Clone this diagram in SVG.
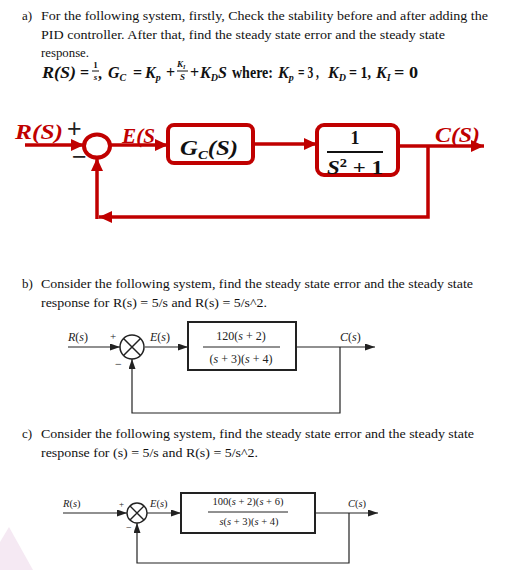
<svg xmlns="http://www.w3.org/2000/svg" width="518" height="570" viewBox="0 0 518 570">
<style>
.t{font-family:"Liberation Serif","Times New Roman",serif;font-size:13px;fill:#111}
.f{font-family:"Liberation Serif","Times New Roman",serif;font-weight:bold;fill:#111}
.i{font-style:italic}
.red{font-family:"Liberation Serif","Times New Roman",serif;font-weight:bold;font-style:italic;fill:#C00000}
.rl{fill:none;stroke:#C00000;stroke-width:3.5}
.rb{fill:#fff;stroke:#C00000;stroke-width:4}
.bl{fill:none;stroke:#222;stroke-width:1.2}
.bb{fill:#fff;stroke:#222;stroke-width:2}
.s{font-family:"Liberation Serif","Times New Roman",serif;fill:#222}
</style>
<defs>
<marker id="ra" markerUnits="userSpaceOnUse" markerWidth="13" markerHeight="12" refX="13" refY="6" orient="auto"><path d="M0,0 L13,6 L0,12 z" fill="#C00000"/></marker>
<marker id="ba" markerUnits="userSpaceOnUse" markerWidth="10" markerHeight="7" refX="10" refY="3.5" orient="auto"><path d="M0,0 L10,3.5 L0,7 z" fill="#222"/></marker>
</defs>
<rect width="518" height="570" fill="#fff"/>
<polygon points="0,542 9,527 33,570 0,570" fill="#F5E9F3"/>

<!-- Section a text -->
<g id="text-a">
<text class="t" x="22" y="20">a)</text>
<text class="t" x="41" y="20" textLength="447" lengthAdjust="spacingAndGlyphs">For the following system, firstly, Check the stability before and after adding the</text>
<text class="t" x="41" y="39" textLength="404" lengthAdjust="spacingAndGlyphs">PID controller. After that, find the steady state error and the steady state</text>
<text class="t" x="41" y="57" textLength="48" lengthAdjust="spacingAndGlyphs">response.</text>
</g>
<g id="formula" class="f" font-size="16">
<text x="42" y="78" class="i" textLength="34" lengthAdjust="spacingAndGlyphs">R(S)</text>
<text x="80" y="78">=</text>
<text x="95.5" y="68" font-size="9" text-anchor="middle">1</text>
<line x1="92" y1="71" x2="99" y2="71" stroke="#111" stroke-width="1"/>
<text x="95.5" y="80" font-size="9" class="i" text-anchor="middle">s</text>
<text x="98" y="79">,</text>
<text x="108" y="78" class="i">G<tspan font-size="10" dy="3">C</tspan></text>
<text x="133" y="78">=</text>
<text x="145" y="78" class="i">K<tspan font-size="10" dy="3">p</tspan></text>
<text x="166" y="78">+</text>
<text x="177" y="67" font-size="9" class="i">K<tspan font-size="6" dy="2">I</tspan></text>
<line x1="177" y1="71" x2="188" y2="71" stroke="#111" stroke-width="1"/>
<text x="182.5" y="80" font-size="9" class="i" text-anchor="middle">S</text>
<text x="190" y="78">+</text>
<text x="200" y="78" class="i">K<tspan font-size="10" dy="3">D</tspan><tspan font-size="16" dy="-3">S</tspan></text>
<text x="232" y="78" textLength="41" lengthAdjust="spacingAndGlyphs">where:</text>
<text x="278" y="78" class="i">K<tspan font-size="10" dy="3">p</tspan></text>
<text x="298" y="78" textLength="21" lengthAdjust="spacingAndGlyphs">= 3 ,</text>
<text x="328" y="78" class="i">K<tspan font-size="10" dy="3">D</tspan></text>
<text x="349" y="78" textLength="22" lengthAdjust="spacingAndGlyphs">= 1,</text>
<text x="376" y="78" class="i">K<tspan font-size="10" dy="3">I</tspan></text>
<text x="394" y="78" textLength="24" lengthAdjust="spacingAndGlyphs">= 0</text>
</g>

<!-- Diagram a -->
<g id="connectors-a">
<path class="rl" d="M25,145 H84" marker-end="url(#ra)"/>
<path class="rl" d="M110,145 H168" marker-end="url(#ra)"/>
<path class="rl" d="M253,144 H317" marker-end="url(#ra)"/>
<path class="rl" d="M398,146 H484" marker-end="url(#ra)"/>
<path class="rl" d="M428,146 V217 H99" marker-end="url(#ra)"/>
<path class="rl" d="M97,219 V158" marker-end="url(#ra)"/>
</g>
<g id="sum-a">
<ellipse cx="97" cy="146" rx="13" ry="11.5" fill="#fff" stroke="#C00000" stroke-width="4"/>
<text x="67" y="137" font-family="Liberation Sans,Arial,sans-serif" font-size="25" fill="#222">+</text>
<text x="72" y="165" font-family="Liberation Sans,Arial,sans-serif" font-size="25" fill="#222">−</text>
</g>
<g id="labels-a">
<text class="red" x="15" y="139" font-size="21" textLength="48" lengthAdjust="spacingAndGlyphs">R(S)</text>
<text class="red" x="122" y="143" font-size="20" textLength="33" lengthAdjust="spacingAndGlyphs">E(S</text>
<text class="red" x="435" y="142" font-size="20" textLength="45" lengthAdjust="spacingAndGlyphs">C(S)</text>
</g>
<g id="block-gc">
<rect class="rb" x="168" y="125" width="85" height="38" rx="6"/>
<text class="f i" x="180" y="155" font-size="22" textLength="58" lengthAdjust="spacingAndGlyphs">G<tspan font-size="13" dy="4">C</tspan><tspan font-size="22" dy="-4">(S)</tspan></text>
</g>
<g id="block-plant">
<rect class="rb" x="317" y="125" width="81" height="50" rx="7"/>
<text class="f" x="355" y="144" font-size="18" text-anchor="middle">1</text>
<line x1="327" y1="152" x2="383" y2="152" stroke="#111" stroke-width="2"/>
<text class="f" x="327" y="174" font-size="19" textLength="56" lengthAdjust="spacingAndGlyphs"><tspan font-style="italic">S</tspan><tspan font-size="12" dy="-7">2</tspan><tspan dy="7"> + 1</tspan></text>
</g>

<!-- Section b text -->
<g id="text-b">
<text class="t" x="22" y="288">b)</text>
<text class="t" x="41" y="288" textLength="432" lengthAdjust="spacingAndGlyphs">Consider the following system, find the steady state error and the steady state</text>
<text class="t" x="41" y="307" textLength="226" lengthAdjust="spacingAndGlyphs">response for R(s) = 5/s and R(s) = 5/s^2.</text>
</g>
<g id="connectors-b">
<path class="bl" d="M68,347 H120" marker-end="url(#ba)"/>
<path class="bl" d="M145,347 H188" marker-end="url(#ba)"/>
<path class="bl" d="M296,347 H375" marker-end="url(#ba)"/>
<path class="bl" d="M340,347 V413 H132 V359" marker-end="url(#ba)"/>
</g>
<g id="sum-b">
<circle cx="132" cy="347" r="12" fill="#fff" stroke="#222" stroke-width="1.5"/>
<path d="M123.5,338.5 L140.5,355.5 M140.5,338.5 L123.5,355.5" stroke="#222" stroke-width="1.5"/>
<text class="s" x="110" y="340" font-size="11">+</text>
<text class="s" x="115" y="368" font-size="12">−</text>
</g>
<g id="labels-b" class="s" font-size="12">
<text x="68" y="341"><tspan font-style="italic">R</tspan>(<tspan font-style="italic">s</tspan>)</text>
<text x="150" y="341"><tspan font-style="italic">E</tspan>(<tspan font-style="italic">s</tspan>)</text>
<text x="340" y="341"><tspan font-style="italic">C</tspan>(<tspan font-style="italic">s</tspan>)</text>
</g>
<g id="block-b">
<rect class="bb" x="188" y="322" width="108" height="48"/>
<text class="s" x="241" y="340" font-size="12" text-anchor="middle">120(<tspan font-style="italic">s</tspan> + 2)</text>
<line x1="203" y1="347" x2="280" y2="347" stroke="#222" stroke-width="1"/>
<text class="s" x="241" y="363" font-size="12" text-anchor="middle">(<tspan font-style="italic">s</tspan> + 3)(<tspan font-style="italic">s</tspan> + 4)</text>
</g>

<!-- Section c text -->
<g id="text-c">
<text class="t" x="22" y="438">c)</text>
<text class="t" x="41" y="438" textLength="433" lengthAdjust="spacingAndGlyphs">Consider the following system, find the steady state error and the steady state</text>
<text class="t" x="41" y="457" textLength="217" lengthAdjust="spacingAndGlyphs">response for (s) = 5/s and R(s) = 5/s^2.</text>
</g>
<g id="connectors-c">
<path class="bl" d="M63,513 H127" marker-end="url(#ba)"/>
<path class="bl" d="M147,513 H181" marker-end="url(#ba)"/>
<path class="bl" d="M315,513 H378" marker-end="url(#ba)"/>
<path class="bl" d="M349,513 V563 H137 V523" marker-end="url(#ba)"/>
</g>
<g id="sum-c">
<circle cx="137" cy="513" r="10" fill="#fff" stroke="#222" stroke-width="1.4"/>
<path d="M130,506 L144,520 M144,506 L130,520" stroke="#222" stroke-width="1.4"/>
<text class="s" x="119" y="507" font-size="9">+</text>
<text class="s" x="126" y="531" font-size="10">−</text>
</g>
<g id="labels-c" class="s" font-size="10.5">
<text x="63" y="507"><tspan font-style="italic">R</tspan>(<tspan font-style="italic">s</tspan>)</text>
<text x="150" y="507"><tspan font-style="italic">E</tspan>(<tspan font-style="italic">s</tspan>)</text>
<text x="348" y="507"><tspan font-style="italic">C</tspan>(<tspan font-style="italic">s</tspan>)</text>
</g>
<g id="block-c">
<rect class="bb" x="181" y="493" width="134" height="40"/>
<text class="s" x="248" y="505" font-size="10.5" text-anchor="middle">100(<tspan font-style="italic">s</tspan> + 2)(<tspan font-style="italic">s</tspan> + 6)</text>
<line x1="208" y1="512" x2="288" y2="512" stroke="#222" stroke-width="1"/>
<text class="s" x="249" y="525" font-size="10.5" text-anchor="middle"><tspan font-style="italic">s</tspan>(<tspan font-style="italic">s</tspan> + 3)(<tspan font-style="italic">s</tspan> + 4)</text>
</g>
</svg>
